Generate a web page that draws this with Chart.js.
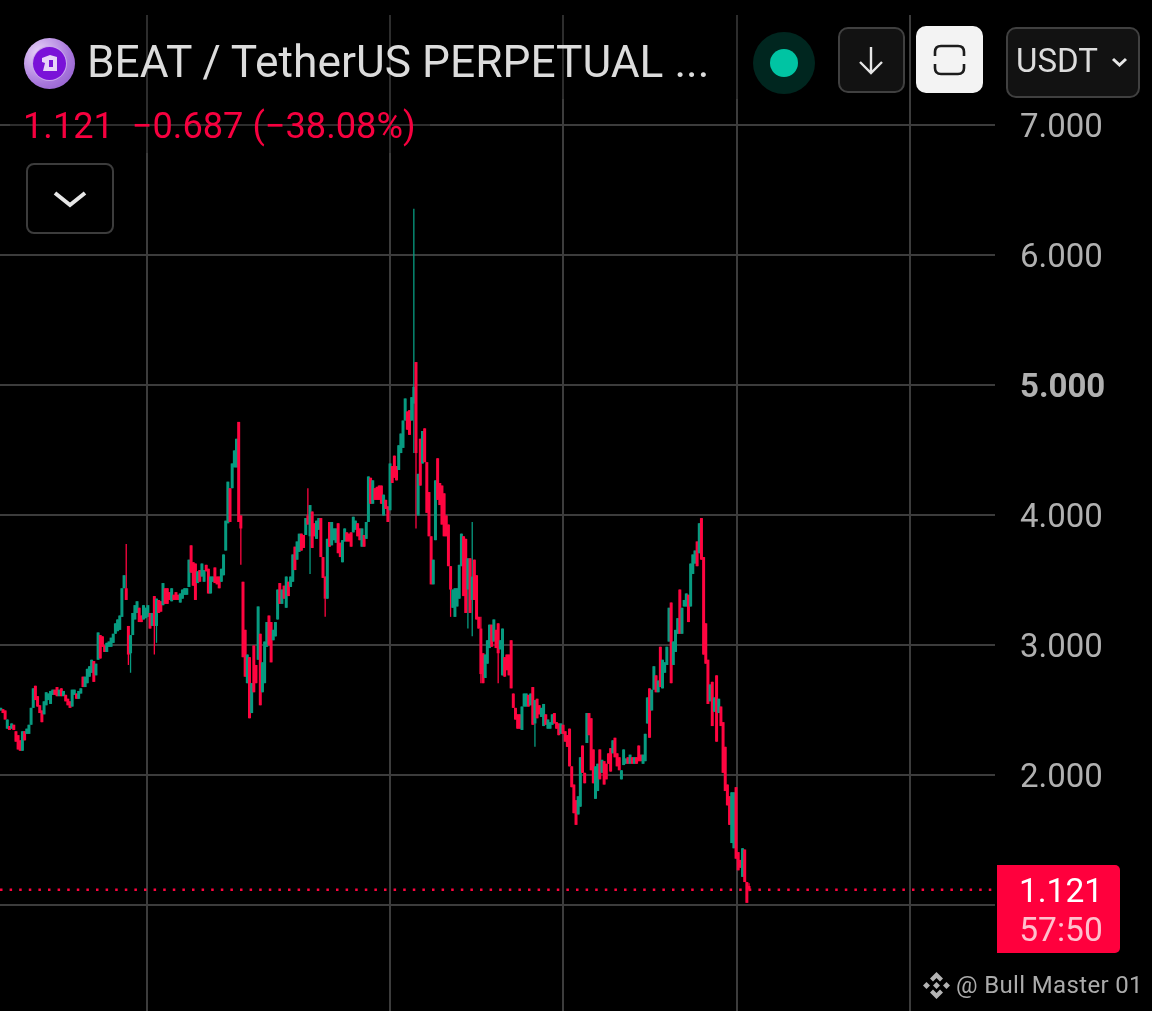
<!DOCTYPE html>
<html>
<head>
<meta charset="utf-8">
<title>BEAT / TetherUS PERPETUAL</title>
<script src="https://cdn.jsdelivr.net/npm/chart.js@4/dist/chart.umd.min.js"></script>
<style>
  html, body { margin: 0; padding: 0; background: #000; }
  body { width: 1152px; height: 1011px; position: relative; overflow: hidden; font-family: Roboto, sans-serif; }
  canvas { position: absolute; left: 0; top: 0; }
  .abs { position: absolute; white-space: nowrap; }
  .btn { position: absolute; box-sizing: border-box; background: #121212; border: 2px solid #404040; border-radius: 10px; }
  svg { position: absolute; overflow: visible; }
</style>
</head>
<body>
<canvas id="price-chart" width="1152" height="1011"></canvas>

<div class="abs" style="left:0;top:15px;width:745px;height:84px;background:rgba(0,0,0,.25)"></div>
<div class="abs" style="left:10px;top:99px;width:420px;height:54px;background:rgba(0,0,0,.25)"></div>

<div class="abs" style="left:24px;top:38px;width:51px;height:51px;border-radius:50%;background:radial-gradient(circle at 30% 30%,#e8d4f8,#a877dc 60%,#8a55c8)"></div>
<div class="abs" style="left:33px;top:47px;width:33px;height:33px;border-radius:50%;background:#7a12d8;box-shadow:0 0 0 1px #c9a6ec"></div>
<svg style="left:40px;top:54px" width="19" height="19"><path d="M2 4 L10 1 L17 3 L17 17 L3 17 L5 9 L2 8 Z M9 6 L9 13 L13 13 L13 6 Z" fill="#e8d4f8" fill-rule="evenodd"/></svg>

<div class="abs" id="title" style="left:87px;top:37px;font-size:44.3px;line-height:50px;color:#dcdcdc">BEAT / TetherUS PERPETUAL ...</div>
<div class="abs" id="change" style="left:23px;top:105px;font-size:36.2px;line-height:42px;color:#f7003f;white-space:pre">1.121  −0.687 (−38.08%)</div>

<div class="btn" style="left:26px;top:163px;width:88px;height:71px;background:#000;border-color:#3c3c3c;border-radius:8px"></div>
<svg style="left:53px;top:190px" width="34" height="20"><path d="M2 3 L17 15 L32 3" fill="none" stroke="#e6e6e6" stroke-width="4"/></svg>

<div class="abs" style="left:753px;top:32px;width:62px;height:62px;border-radius:50%;background:#00261f"></div>
<div class="abs" style="left:770px;top:49px;width:28px;height:28px;border-radius:50%;background:#00c4a3"></div>

<div class="btn" style="left:838px;top:27px;width:67px;height:66px"></div>
<svg style="left:858px;top:46px" width="26" height="28"><path d="M13 1 L13 27 M2 16 L13 27 L24 16" fill="none" stroke="#e6e6e6" stroke-width="2.4"/></svg>

<div class="abs" style="left:916px;top:26px;width:67px;height:67px;border-radius:10px;background:#f3f3f3"></div>
<svg style="left:933px;top:44px" width="33" height="32"><path d="M2 12 L2 8 Q2 2 8 2 L25 2 Q31 2 31 8 L31 12 M2 20 L2 24 Q2 30 8 30 L25 30 Q31 30 31 24 L31 20" fill="none" stroke="#1c1c1c" stroke-width="2.6"/></svg>

<div class="btn" style="left:1006px;top:27px;width:134px;height:71px"></div>
<div class="abs" style="left:1016px;top:40px;font-size:33px;line-height:42px;color:#dcdcdc">USDT</div>
<svg style="left:1111px;top:57px" width="17" height="11"><path d="M2 2 L8.5 8 L15 2" fill="none" stroke="#e6e6e6" stroke-width="3"/></svg>

<div class="abs" style="left:997px;top:865px;width:123px;height:88px;background:#ff003d;border-radius:0 5px 5px 0"></div>
<div class="abs" style="left:997px;width:128px;top:870px;text-align:center;font-size:33.5px;line-height:41px;color:#fff">1.121</div>
<div class="abs" style="left:997px;width:128px;top:909px;text-align:center;font-size:33.5px;line-height:41px;color:#ffc0cd">57:50</div>

<svg style="left:923px;top:972px" width="27" height="27"><g fill="#b4b4b4"><path d="M13.5 0 L20 6.5 L17 9.5 L13.5 6 L10 9.5 L7 6.5 Z"/><path d="M13.5 27 L20 20.5 L17 17.5 L13.5 21 L10 17.5 L7 20.5 Z"/><path d="M0 13.5 L3.5 10 L7 13.5 L3.5 17 Z"/><path d="M27 13.5 L23.5 10 L20 13.5 L23.5 17 Z"/><path d="M13.5 10 L17 13.5 L13.5 17 L10 13.5 Z"/></g></svg>
<div class="abs" id="mark" style="left:956px;top:970px;font-size:24px;line-height:30px;letter-spacing:.35px;color:#ababab">@ Bull Master 01</div>

<script>
const highs = [
  2.52,2.51,2.50,2.43,2.38,2.40,2.39,2.34,2.31,2.27,
  2.34,2.34,2.36,2.39,2.52,2.67,2.69,2.61,2.54,2.50,
  2.57,2.64,2.63,2.65,2.66,2.66,2.68,2.66,2.67,2.65,
  2.62,2.59,2.57,2.66,2.66,2.63,2.65,2.67,2.76,2.76,
  2.82,2.84,2.89,2.88,2.86,3.10,3.08,3.07,3.00,3.02,
  3.03,3.06,3.09,3.17,3.20,3.23,3.44,3.54,3.78,3.15,
  3.08,3.25,3.31,3.34,3.29,3.23,3.31,3.29,3.31,3.25,
  3.25,3.38,3.36,3.35,3.34,3.48,3.44,3.44,3.41,3.44,
  3.39,3.41,3.39,3.40,3.43,3.44,3.44,3.66,3.77,3.64,
  3.63,3.57,3.58,3.63,3.58,3.62,3.59,3.53,3.53,3.60,
  3.53,3.53,3.59,3.70,3.96,4.26,4.21,4.40,4.50,4.59,
  4.72,4.00,3.49,3.12,2.93,2.91,2.71,3.00,2.85,3.30,
  3.09,2.87,3.03,3.18,3.23,3.18,3.12,3.18,3.43,3.48,
  3.43,3.46,3.53,3.49,3.53,3.70,3.76,3.80,3.86,3.86,
  3.85,3.98,4.21,4.08,4.03,3.94,3.96,3.98,3.98,3.68,
  3.53,3.82,3.95,3.95,3.90,3.90,3.94,3.79,3.81,3.90,
  3.87,3.86,3.87,3.99,3.96,3.94,3.90,3.90,3.85,3.95,
  4.30,4.29,4.27,4.21,4.22,4.23,4.23,4.16,4.12,4.07,
  4.40,4.38,4.46,4.38,4.54,4.63,4.73,4.90,4.80,4.81,
  4.91,6.36,5.18,4.32,4.59,4.65,4.67,4.41,4.18,3.84,
  3.66,4.27,4.44,4.25,4.23,4.17,4.00,3.93,3.61,3.43,
  3.44,3.44,3.62,3.86,3.84,3.82,3.67,3.67,3.95,3.66,
  3.54,3.22,3.22,2.94,2.93,3.04,3.16,3.16,3.20,3.12,
  3.17,3.04,3.13,2.91,2.93,2.93,3.04,2.63,2.52,2.47,
  2.47,2.53,2.63,2.63,2.62,2.63,2.68,2.58,2.59,2.54,
  2.52,2.55,2.47,2.43,2.41,2.47,2.48,2.41,2.40,2.40,
  2.39,2.34,2.31,2.36,2.07,1.93,1.81,1.84,2.14,2.23,
  2.02,2.48,2.48,2.44,2.20,2.07,2.09,2.20,2.12,2.11,
  2.09,2.17,2.21,2.27,2.29,2.17,2.14,2.04,2.20,2.13,
  2.14,2.16,2.14,2.14,2.14,2.23,2.16,2.16,2.32,2.60,
  2.67,2.66,2.84,2.77,2.73,2.99,2.89,2.87,2.99,3.29,
  3.33,3.03,3.12,3.21,3.43,3.29,3.35,3.40,3.39,3.63,
  3.70,3.73,3.80,3.94,3.98,3.68,3.17,2.89,2.70,2.72,
  2.60,2.77,2.59,2.53,2.41,2.22,1.93,1.84,1.87,1.87,
  1.91,1.41,1.35,1.44,1.43,1.18,1.17
];
const lows = [
  2.50,2.48,2.43,2.36,2.35,2.36,2.35,2.26,2.20,2.19,
  2.19,2.27,2.32,2.32,2.39,2.52,2.58,2.53,2.48,2.41,
  2.47,2.54,2.58,2.55,2.62,2.62,2.61,2.61,2.61,2.61,
  2.57,2.54,2.52,2.53,2.62,2.59,2.59,2.63,2.68,2.68,
  2.71,2.76,2.79,2.72,2.77,2.89,2.90,2.99,2.95,2.95,
  2.99,2.99,3.02,3.09,3.11,3.12,3.22,3.44,3.35,2.85,
  2.79,3.08,3.20,3.25,3.18,3.18,3.20,3.21,3.22,3.13,
  3.15,2.93,3.02,3.25,3.26,3.31,3.32,3.32,3.35,3.34,
  3.35,3.35,3.35,3.33,3.36,3.39,3.39,3.45,3.56,3.46,
  3.35,3.48,3.49,3.53,3.49,3.57,3.40,3.40,3.49,3.48,
  3.47,3.44,3.49,3.54,3.73,3.94,3.95,4.21,4.37,4.37,
  3.95,3.62,2.91,2.76,2.71,2.44,2.48,2.64,2.71,2.89,
  2.54,2.64,2.71,2.99,3.00,2.87,3.04,3.07,3.20,3.32,
  3.32,3.36,3.29,3.38,3.45,3.49,3.58,3.66,3.72,3.73,
  3.75,3.85,3.93,3.55,3.75,3.84,3.82,3.89,3.68,3.52,
  3.22,3.36,3.76,3.77,3.81,3.79,3.71,3.68,3.64,3.80,
  3.80,3.80,3.76,3.87,3.89,3.84,3.81,3.76,3.76,3.82,
  3.95,4.09,4.09,4.12,4.12,4.12,4.09,4.00,4.05,3.95,
  4.04,4.25,4.29,4.27,4.35,4.48,4.52,4.73,4.66,4.62,
  4.73,4.48,3.90,4.00,4.23,4.40,4.41,4.02,3.84,3.47,
  3.47,3.81,4.12,4.08,3.93,3.84,3.84,3.61,3.22,3.29,
  3.22,3.30,3.36,3.61,3.38,3.25,3.13,3.25,3.07,3.35,
  3.20,3.13,2.71,2.71,2.75,2.86,2.98,2.99,3.03,2.98,
  2.71,2.97,2.77,2.76,2.81,2.77,2.67,2.52,2.43,2.36,
  2.36,2.35,2.53,2.53,2.53,2.54,2.39,2.22,2.44,2.47,
  2.45,2.38,2.39,2.36,2.36,2.39,2.40,2.36,2.31,2.32,
  2.32,2.26,2.22,2.07,1.91,1.71,1.62,1.70,1.76,2.02,
  1.94,2.25,2.31,2.04,1.94,1.82,1.88,1.97,2.02,1.93,
  1.97,2.09,2.03,2.17,2.14,2.07,2.04,1.97,2.08,2.09,
  2.09,2.09,2.09,2.09,2.09,2.11,2.11,2.09,2.11,2.40,
  2.29,2.50,2.66,2.64,2.64,2.68,2.67,2.79,2.85,3.03,
  2.71,2.85,2.95,3.09,3.09,3.09,3.30,3.30,3.18,3.30,
  3.55,3.63,3.61,3.71,3.66,2.93,2.86,2.55,2.57,2.38,
  2.49,2.26,2.48,2.38,2.02,1.88,1.77,1.62,1.48,1.44,
  1.36,1.27,1.29,1.22,1.18,1.02,1.11
];
const opens = [
  2.50,2.51,2.50,2.36,2.38,2.36,2.39,2.34,2.31,2.27,
  2.19,2.34,2.32,2.32,2.39,2.52,2.69,2.61,2.54,2.50,
  2.47,2.54,2.58,2.55,2.62,2.66,2.68,2.61,2.67,2.61,
  2.62,2.59,2.57,2.53,2.62,2.63,2.59,2.63,2.76,2.68,
  2.71,2.76,2.79,2.88,2.77,2.89,3.08,3.07,3.00,2.95,
  2.99,2.99,3.02,3.09,3.11,3.12,3.22,3.44,3.44,3.15,
  2.94,3.08,3.20,3.25,3.29,3.23,3.20,3.21,3.22,3.25,
  3.15,3.38,3.15,3.35,3.34,3.31,3.44,3.44,3.41,3.34,
  3.39,3.41,3.39,3.33,3.36,3.39,3.39,3.45,3.77,3.64,
  3.63,3.48,3.58,3.53,3.49,3.62,3.59,3.40,3.49,3.60,
  3.53,3.53,3.49,3.54,3.73,3.94,4.21,4.21,4.37,4.37,
  4.72,4.00,3.49,3.12,2.71,2.91,2.48,3.00,2.85,2.89,
  3.09,2.64,2.71,2.99,3.23,3.18,3.04,3.07,3.20,3.48,
  3.32,3.46,3.29,3.49,3.45,3.49,3.76,3.66,3.72,3.86,
  3.85,3.85,4.00,3.84,4.03,3.94,3.82,3.89,3.98,3.68,
  3.53,3.36,3.95,3.77,3.81,3.79,3.94,3.79,3.64,3.80,
  3.87,3.86,3.87,3.87,3.89,3.94,3.90,3.76,3.85,3.82,
  3.95,4.29,4.09,4.21,4.22,4.23,4.23,4.00,4.12,4.07,
  4.04,4.38,4.46,4.38,4.35,4.48,4.52,4.73,4.80,4.81,
  4.73,4.86,5.18,4.00,4.59,4.40,4.67,4.41,4.18,3.84,
  3.47,3.81,4.44,4.25,4.23,4.17,4.00,3.93,3.61,3.29,
  3.22,3.30,3.36,3.61,3.84,3.82,3.43,3.67,3.35,3.66,
  3.54,3.22,3.13,2.94,2.75,2.86,2.98,3.16,3.03,3.12,
  3.17,2.97,2.77,2.91,2.93,2.93,3.04,2.63,2.52,2.47,
  2.47,2.35,2.53,2.53,2.62,2.54,2.68,2.40,2.59,2.54,
  2.45,2.38,2.47,2.36,2.36,2.39,2.48,2.41,2.40,2.32,
  2.39,2.34,2.31,2.36,2.07,1.93,1.81,1.70,1.76,2.23,
  2.02,2.25,2.48,2.44,2.20,1.82,1.88,2.20,2.02,2.11,
  2.09,2.17,2.21,2.17,2.29,2.17,2.14,1.97,2.08,2.09,
  2.14,2.09,2.14,2.09,2.14,2.23,2.16,2.09,2.11,2.40,
  2.67,2.50,2.66,2.77,2.64,2.99,2.67,2.79,2.85,3.03,
  3.33,2.85,2.95,3.09,3.43,3.09,3.30,3.30,3.39,3.30,
  3.55,3.63,3.80,3.71,3.98,3.68,3.17,2.89,2.57,2.72,
  2.49,2.77,2.48,2.53,2.41,2.22,1.93,1.84,1.48,1.44,
  1.91,1.41,1.35,1.22,1.43,1.18,1.15
];
const closes = [
  2.52,2.48,2.43,2.43,2.35,2.40,2.35,2.26,2.20,2.19,
  2.34,2.27,2.36,2.39,2.52,2.67,2.58,2.53,2.48,2.41,
  2.57,2.64,2.63,2.65,2.66,2.62,2.61,2.66,2.61,2.65,
  2.57,2.54,2.52,2.66,2.66,2.59,2.65,2.67,2.68,2.76,
  2.82,2.84,2.89,2.72,2.86,3.10,2.90,2.99,2.95,3.02,
  3.03,3.06,3.09,3.17,3.20,3.23,3.44,3.54,3.35,2.93,
  3.08,3.25,3.31,3.34,3.18,3.18,3.31,3.29,3.31,3.13,
  3.25,3.15,3.36,3.25,3.26,3.48,3.32,3.32,3.35,3.44,
  3.35,3.35,3.35,3.40,3.43,3.44,3.44,3.66,3.56,3.46,
  3.35,3.57,3.49,3.63,3.58,3.57,3.40,3.53,3.53,3.48,
  3.47,3.44,3.59,3.70,3.96,4.26,3.95,4.40,4.50,4.59,
  3.95,3.90,2.91,2.76,2.93,2.44,2.71,2.64,2.71,3.30,
  2.54,2.87,3.03,3.18,3.00,2.87,3.12,3.18,3.43,3.32,
  3.43,3.36,3.53,3.38,3.53,3.70,3.58,3.80,3.86,3.73,
  3.75,3.98,3.93,4.08,3.75,3.84,3.96,3.98,3.68,3.52,
  3.36,3.82,3.76,3.95,3.90,3.90,3.71,3.68,3.81,3.90,
  3.80,3.80,3.76,3.99,3.96,3.84,3.81,3.90,3.76,3.95,
  4.30,4.09,4.27,4.12,4.12,4.12,4.09,4.16,4.05,3.95,
  4.40,4.25,4.29,4.27,4.54,4.63,4.73,4.90,4.66,4.62,
  4.91,4.99,4.48,4.32,4.23,4.65,4.41,4.02,3.84,3.47,
  3.66,4.27,4.12,4.08,3.93,3.84,3.84,3.61,3.43,3.43,
  3.44,3.44,3.62,3.86,3.38,3.25,3.67,3.25,3.53,3.35,
  3.20,3.13,2.78,2.71,2.93,3.04,3.16,2.99,3.20,2.98,
  2.94,3.04,3.13,2.76,2.81,2.77,2.67,2.52,2.43,2.36,
  2.36,2.53,2.63,2.63,2.53,2.63,2.39,2.58,2.44,2.47,
  2.52,2.55,2.39,2.43,2.41,2.47,2.40,2.36,2.31,2.40,
  2.32,2.26,2.22,2.07,1.91,1.71,1.62,1.84,2.14,2.02,
  1.94,2.48,2.31,2.04,1.94,2.07,2.09,1.97,2.12,1.93,
  1.97,2.09,2.03,2.27,2.14,2.07,2.04,2.04,2.20,2.13,
  2.09,2.16,2.09,2.14,2.09,2.11,2.11,2.16,2.32,2.60,
  2.29,2.66,2.84,2.64,2.73,2.68,2.89,2.87,2.99,3.29,
  2.71,3.03,3.12,3.21,3.09,3.29,3.35,3.40,3.18,3.63,
  3.70,3.73,3.61,3.94,3.66,2.93,2.86,2.55,2.70,2.38,
  2.60,2.26,2.59,2.38,2.02,1.88,1.77,1.62,1.87,1.87,
  1.36,1.27,1.29,1.44,1.18,1.02,1.121
];

const priceTicks = [7, 6, 5, 4, 3, 2, 1];
const priceLabels = ['7.000', '6.000', '5.000', '4.000', '3.000', '2.000', ''];
const timeTicks = [67.7, 180, 260, 340.5, 420.5];
const lastPrice = 1.121;

const upColor = '#079b80';
const downColor = '#ff0540';
const gridColor = '#3c3c3c';
const xMin = -0.37;
const xMax = 459.75;

const barColors = closes.map((c, i) => (c >= opens[i] ? upColor : downColor));

new Chart(document.getElementById('price-chart'), {
  type: 'bar',
  data: {
    datasets: [
      {
        label: 'Body',
        order: 1,
        data: closes.map((c, i) => ({ x: i, y: [opens[i], c] })),
        backgroundColor: barColors,
        barThickness: 3
      },
      {
        label: 'Wick',
        order: 2,
        data: highs.map((h, i) => ({ x: i, y: [lows[i], h] })),
        backgroundColor: barColors,
        barThickness: 1.3
      },
      {
        type: 'line',
        label: 'Last price',
        order: 0,
        data: [{ x: xMin, y: lastPrice }, { x: xMax, y: lastPrice }],
        borderColor: downColor,
        borderWidth: 2.4,
        borderDash: [2.5, 7.1],
        pointRadius: 0
      }
    ]
  },
  options: {
    responsive: false,
    animation: false,
    layout: { padding: { top: 15 } },
    datasets: { bar: { grouped: false, borderWidth: 0, inflateAmount: 0 } },
    plugins: {
      legend: { display: false },
      tooltip: { enabled: false }
    },
    scales: {
      x: {
        type: 'linear',
        min: xMin,
        max: xMax,
        offset: false,
        border: { display: false },
        grid: { color: gridColor, lineWidth: 2, offset: false, drawTicks: false },
        ticks: { display: false },
        afterBuildTicks: scale => {
          scale.ticks = timeTicks.map(value => ({ value }));
        },
        afterFit: scale => {
          scale.height = 0;
          scale.paddingLeft = 0;
          scale.paddingRight = 0;
        }
      },
      y: {
        position: 'right',
        min: 0.188,
        max: 7.85,
        border: { display: false },
        grid: { color: gridColor, lineWidth: 2, drawTicks: false },
        ticks: {
          padding: 25,
          labelOffset: 3.5,
          autoSkip: false,
          color: '#b0b0b0',
          font: ctx => ({
            family: 'Roboto',
            size: 33,
            weight: ctx.tick && ctx.tick.value === 5 ? 'bold' : 'normal'
          }),
          callback: value => priceLabels[priceTicks.indexOf(value)]
        },
        afterBuildTicks: scale => {
          scale.ticks = priceTicks.map(value => ({ value }));
        },
        afterFit: scale => {
          scale.width = 157;
          scale.paddingTop = 0;
          scale.paddingBottom = 0;
        }
      }
    }
  }
});
</script>
</body>
</html>
